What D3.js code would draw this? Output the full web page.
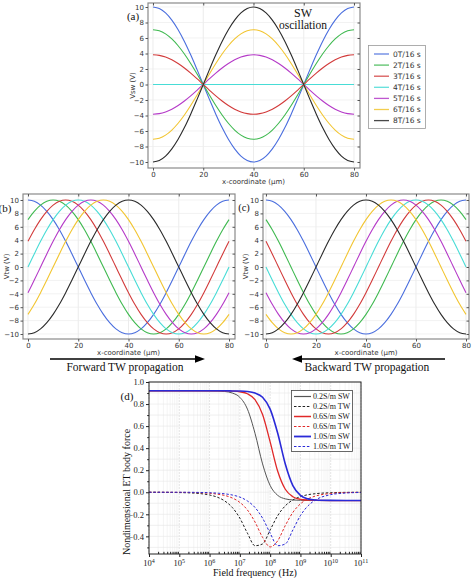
<!DOCTYPE html>
<html>
<head>
<meta charset="utf-8">
<script src="https://cdn.jsdelivr.net/npm/d3@7"></script>
<style>
  body { margin: 0; background: #fff; }
  svg { display: block; }
</style>
</head>
<body>
<script>
"use strict";

// ---- panels (a)-(c): one wavelength sampled every 2.5 um
const waveX = [0, 2.5, 5, 7.5, 10, 12.5, 15, 17.5, 20, 22.5, 25, 27.5, 30, 32.5, 35, 37.5, 40,
               42.5, 45, 47.5, 50, 52.5, 55, 57.5, 60, 62.5, 65, 67.5, 70, 72.5, 75, 77.5, 80];
const waveBase = [10, 9.81, 9.24, 8.31, 7.07, 5.56, 3.83, 1.95, 0, -1.95, -3.83, -5.56, -7.07, -8.31, -9.24, -9.81, -10,
                  -9.81, -9.24, -8.31, -7.07, -5.56, -3.83, -1.95, 0, 1.95, 3.83, 5.56, 7.07, 8.31, 9.24, 9.81, 10];
const timeLabels = ["0T/16 s", "2T/16 s", "3T/16 s", "4T/16 s", "5T/16 s", "6T/16 s", "8T/16 s"];
// standing wave: value at x = 0 for each time
const swAmp = [10, 7.07, 3.83, 0, -3.83, -7.07, -10];
// travelling wave: crest position (um) for each time
const twShift = [0, 10, 15, 20, 25, 30, 40];
const waveXTicks = [0, 20, 40, 60, 80];
const waveYTicks = [-10, -8, -6, -4, -2, 0, 2, 4, 6, 8, 10];

// ---- panel (d): field frequency (log10 Hz) and body force
const logF = [4, 5, 5.5, 6, 6.25, 6.5, 6.75, 7, 7.25, 7.5, 7.75, 8, 8.25, 8.5, 8.75, 9, 9.25, 9.5, 10, 10.5, 11];
const sw02 = [0.92, 0.92, 0.92, 0.919, 0.918, 0.914, 0.900, 0.861, 0.754, 0.535, 0.257, 0.061, -0.028, -0.060, -0.070, -0.073, -0.074, -0.075, -0.075, -0.075, -0.075];
const tw02 = [0, -0.003, -0.008, -0.025, -0.044, -0.079, -0.138, -0.235, -0.371, -0.485, -0.469, -0.342, -0.212, -0.123, -0.070, -0.040, -0.022, -0.013, -0.004, -0.001, 0];
const sw06 = [0.92, 0.92, 0.92, 0.92, 0.92, 0.919, 0.917, 0.911, 0.893, 0.840, 0.705, 0.457, 0.190, 0.027, -0.040, -0.064, -0.071, -0.074, -0.075, -0.075, -0.075];
const tw06 = [0, -0.001, -0.003, -0.009, -0.017, -0.029, -0.052, -0.092, -0.161, -0.270, -0.409, -0.496, -0.440, -0.302, -0.183, -0.105, -0.060, -0.034, -0.011, -0.003, -0.001];
const sw10 = [0.92, 0.92, 0.92, 0.92, 0.92, 0.92, 0.919, 0.918, 0.914, 0.900, 0.861, 0.754, 0.535, 0.257, 0.061, -0.028, -0.060, -0.070, -0.074, -0.075, -0.075];
const tw10 = [0, 0, -0.001, -0.004, -0.008, -0.014, -0.025, -0.044, -0.079, -0.138, -0.235, -0.371, -0.485, -0.469, -0.342, -0.212, -0.123, -0.070, -0.022, -0.007, -0.002];
const forceLabels = ["0.2S/m SW", "0.2S/m TW", "0.6S/m SW", "0.6S/m TW", "1.0S/m SW", "1.0S/m TW"];
const forceYTicks = [-0.4, -0.2, 0, 0.2, 0.4, 0.6, 0.8, 1.0];
const decades = [4, 5, 6, 7, 8, 9, 10, 11];

(function () {
    const timeColors = ["#4a6ede", "#3fb950", "#d23a3a", "#48dcd6", "#b53ac8", "#f2c531", "#2a2a2a"];
    const sans = "'DejaVu Sans', sans-serif";
    const serif = "'Liberation Serif', 'Times New Roman', serif";

    const svg = d3.select("body").append("svg")
        .attr("width", 474)
        .attr("height", 578);

    const swSeries = swAmp.map(a => waveBase.map(v => v * a / 10));
    const fwdSeries = twShift.map(s => waveX.map((_, j) => waveBase[(j - s / 2.5 + 32) % 32]));
    const bwdSeries = twShift.map(s => waveX.map((_, j) => waveBase[(j + s / 2.5) % 32]));

    drawWave({ frame: [148, 3, 360, 168], xr: [153, 354], yr: [162, 7], ylab: "Vsw (V)", ylabX: 133 }, swSeries);
    drawWave({ frame: [23, 194, 235, 339], xr: [28, 229], yr: [334, 200], ylab: "Vtw (V)", ylabX: 7 }, fwdSeries);
    drawWave({ frame: [263, 194, 469, 339], xr: [266, 466], yr: [334, 200], ylab: "Vtw (V)", ylabX: 246 }, bwdSeries);

    // panel tags and notes
    addText(133, 20, "(a)", serif, 11, "middle");
    addText(303, 17, "SW", serif, 12, "middle");
    addText(303, 29, "oscillation", serif, 11.5, "middle");
    addText(5, 212, "(b)", serif, 11, "middle");
    addText(244, 211, "(c)", serif, 10.5, "middle");
    addText(127, 400, "(d)", serif, 11, "middle");

    // propagation arrows
    arrow(50, 205, 359);
    addText(125, 371, "Forward TW propagation", serif, 11.5, "middle");
    arrow(445, 292, 359);
    addText(367, 371, "Backward TW propagation", serif, 11.5, "middle");

    // legend of (a)
    const leg = svg.append("g");
    leg.append("rect").attr("x", 368.5).attr("y", 45.5).attr("width", 57).attr("height", 83)
        .attr("fill", "#fff").attr("stroke", "#999").attr("stroke-width", 0.8);
    timeLabels.forEach((lab, i) => {
        const yy = 54 + i * 11.1;
        leg.append("line").attr("x1", 374).attr("x2", 389).attr("y1", yy).attr("y2", yy)
            .attr("stroke", timeColors[i]).attr("stroke-width", 1.3).attr("opacity", 0.85);
        leg.append("text").attr("x", 393).attr("y", yy + 2.7).attr("font-family", sans)
            .attr("font-size", 7.5).attr("fill", "#333").text(lab);
    });

    drawForce();

    function addText(x, y, s, family, size, anchor) {
        return svg.append("text").attr("x", x).attr("y", y).attr("font-family", family)
            .attr("font-size", size).attr("text-anchor", anchor).attr("fill", "#111").text(s);
    }

    function arrow(x1, x2, y) {
        const dir = x2 > x1 ? 1 : -1;
        svg.append("line").attr("x1", x1).attr("x2", x2 - dir * 6).attr("y1", y).attr("y2", y)
            .attr("stroke", "#000").attr("stroke-width", 1.6);
        svg.append("path")
            .attr("d", `M${x2},${y} L${x2 - dir * 10},${y - 3.8} L${x2 - dir * 10},${y + 3.8} Z`)
            .attr("fill", "#000");
    }

    function drawWave(cfg, series) {
        const [l, t, r, b] = cfg.frame;
        const x = d3.scaleLinear().domain([0, 80]).range(cfg.xr);
        const y = d3.scaleLinear().domain([-10, 10]).range(cfg.yr);
        const g = svg.append("g");

        // grid
        g.selectAll(".vg").data(waveXTicks).enter().append("line")
            .attr("x1", d => x(d)).attr("x2", d => x(d)).attr("y1", t).attr("y2", b)
            .attr("stroke", "#e4e4e4").attr("stroke-width", 0.7);
        g.selectAll(".hg").data(waveYTicks).enter().append("line")
            .attr("x1", l).attr("x2", r).attr("y1", d => y(d)).attr("y2", d => y(d))
            .attr("stroke", "#ededed").attr("stroke-width", 0.7);

        const line = d3.line()
            .x((d, i) => x(waveX[i]))
            .y(d => y(d))
            .curve(d3.curveCatmullRom);

        g.selectAll(".curve").data(series).enter().append("path")
            .attr("d", line)
            .attr("fill", "none")
            .attr("stroke", (d, i) => timeColors[i])
            .attr("stroke-width", 1.1);

        g.append("rect").attr("x", l).attr("y", t).attr("width", r - l).attr("height", b - t)
            .attr("fill", "none").attr("stroke", "#8a8a8a").attr("stroke-width", 1.2);

        const ax = g.append("g").attr("transform", `translate(0,${b})`)
            .call(d3.axisBottom(x).tickValues(waveXTicks).tickSize(2.5).tickPadding(1.5).tickSizeOuter(0));
        const ay = g.append("g").attr("transform", `translate(${l},0)`)
            .call(d3.axisLeft(y).tickValues(waveYTicks).tickSize(2.5).tickPadding(1.5).tickSizeOuter(0));
        // mirrored inner ticks on top and right
        g.append("g").attr("transform", `translate(0,${t})`)
            .call(d3.axisBottom(x).tickValues(waveXTicks).tickSize(2.5).tickFormat("").tickSizeOuter(0));
        g.append("g").attr("transform", `translate(${r},0)`)
            .call(d3.axisLeft(y).tickValues(waveYTicks).tickSize(2.5).tickFormat("").tickSizeOuter(0));

        g.selectAll(".domain").remove();
        g.selectAll(".tick line").attr("stroke", "#555");
        [ax, ay].forEach(a => a.selectAll("text")
            .attr("font-family", sans).attr("font-size", 7).attr("fill", "#333"));

        g.append("text").attr("x", (cfg.xr[0] + cfg.xr[1]) / 2).attr("y", b + 15.5)
            .attr("text-anchor", "middle").attr("font-family", sans).attr("font-size", 7)
            .attr("fill", "#333").text("x-coordinate (\u03bcm)");
        g.append("text").attr("transform", `translate(${cfg.ylabX},${(t + b) / 2}) rotate(-90)`)
            .attr("text-anchor", "middle").attr("dy", "0.35em").attr("font-family", sans)
            .attr("font-size", 7).attr("fill", "#333").text(cfg.ylab);
    }

    function drawForce() {
        const l = 149, r = 361, t = 382, b = 554;
        const x = d3.scaleLog().domain([1e4, 1e11]).range([l, r]);
        const y = d3.scaleLinear().domain([-0.56, 1.0]).range([b, t]);
        const g = svg.append("g");

        const minorF = [];
        decades.slice(0, -1).forEach(p => [2, 3, 4, 5, 6, 7, 8, 9].forEach(k => minorF.push(k * Math.pow(10, p))));
        const minorY = [-0.5, -0.3, -0.1, 0.1, 0.3, 0.5, 0.7, 0.9];

        g.selectAll(".mg").data(minorF).enter().append("line")
            .attr("x1", d => x(d)).attr("x2", d => x(d)).attr("y1", t).attr("y2", b)
            .attr("stroke", "#eeeeee").attr("stroke-width", 0.6);
        g.selectAll(".vg").data(decades).enter().append("line")
            .attr("x1", d => x(Math.pow(10, d))).attr("x2", d => x(Math.pow(10, d))).attr("y1", t).attr("y2", b)
            .attr("stroke", "#d8d8d8").attr("stroke-width", 0.7).attr("stroke-dasharray", "2,1");
        g.selectAll(".hg").data(forceYTicks.concat(minorY)).enter().append("line")
            .attr("x1", l).attr("x2", r).attr("y1", d => y(d)).attr("y2", d => y(d))
            .attr("stroke", "#e6e6e6").attr("stroke-width", 0.6);

        const series = [
            { v: sw02, c: "#555555", w: 1.0, dash: null },
            { v: tw02, c: "#222222", w: 1.0, dash: "2.5,1.8" },
            { v: sw06, c: "#e02828", w: 1.3, dash: null },
            { v: tw06, c: "#e02828", w: 1.0, dash: "2.5,1.8" },
            { v: sw10, c: "#2a2ad8", w: 1.6, dash: null },
            { v: tw10, c: "#2a2ad8", w: 1.0, dash: "2.5,1.8" }
        ];

        const line = d3.line()
            .x((d, i) => x(Math.pow(10, logF[i])))
            .y(d => y(d))
            .curve(d3.curveMonotoneX);

        g.selectAll(".force").data(series).enter().append("path")
            .attr("d", d => line(d.v))
            .attr("fill", "none")
            .attr("stroke", d => d.c)
            .attr("stroke-width", d => d.w)
            .attr("stroke-dasharray", d => d.dash);

        g.append("rect").attr("x", l).attr("y", t).attr("width", r - l).attr("height", b - t)
            .attr("fill", "none").attr("stroke", "#222").attr("stroke-width", 1);

        // axes
        const ay = g.append("g").attr("transform", `translate(${l},0)`)
            .call(d3.axisLeft(y).tickValues(forceYTicks).tickFormat(d3.format(".1f")).tickSize(3).tickPadding(2).tickSizeOuter(0));
        g.append("g").attr("transform", `translate(${l},0)`)
            .call(d3.axisLeft(y).tickValues(minorY).tickFormat("").tickSize(1.8).tickSizeOuter(0));
        const ax = g.append("g").attr("transform", `translate(0,${b})`)
            .call(d3.axisBottom(x).tickValues(decades.map(p => Math.pow(10, p))).tickFormat("").tickSize(3).tickSizeOuter(0));
        g.append("g").attr("transform", `translate(0,${b})`)
            .call(d3.axisTop(x).tickValues(minorF).tickFormat("").tickSize(2.2).tickSizeOuter(0));
        g.selectAll(".domain").remove();
        g.selectAll(".tick line").attr("stroke", "#222");
        ay.selectAll("text").attr("font-family", serif).attr("font-size", 8.5).attr("fill", "#222");

        const xl = g.selectAll(".xl").data(decades).enter().append("text")
            .attr("x", d => x(Math.pow(10, d)))
            .attr("y", b + 12)
            .attr("text-anchor", "middle")
            .attr("font-family", serif).attr("font-size", 8.5).attr("fill", "#222");
        xl.append("tspan").text("10");
        xl.append("tspan").attr("dy", -3.5).attr("font-size", 6).text(d => d);

        g.append("text").attr("x", 255).attr("y", 576).attr("text-anchor", "middle")
            .attr("font-family", serif).attr("font-size", 10).attr("fill", "#111").text("Field frequency (Hz)");
        g.append("text").attr("transform", "translate(126,492) rotate(-90)")
            .attr("text-anchor", "middle").attr("dy", "0.35em")
            .attr("font-family", serif).attr("font-size", 10).attr("fill", "#111").text("Nondimensional ET body force");

        // legend
        const lg = g.append("g");
        lg.append("rect").attr("x", 291.5).attr("y", 390.5).attr("width", 61).attr("height", 61)
            .attr("fill", "#fff").attr("stroke", "#444").attr("stroke-width", 0.8);
        forceLabels.forEach((lab, i) => {
            const yy = 396.5 + i * 10;
            lg.append("line").attr("x1", 294).attr("x2", 311).attr("y1", yy).attr("y2", yy)
                .attr("stroke", series[i].c).attr("stroke-width", series[i].w + 0.2)
                .attr("stroke-dasharray", series[i].dash);
            lg.append("text").attr("x", 313).attr("y", yy + 2.8).attr("font-family", serif)
                .attr("font-size", 8).attr("fill", "#222").text(lab);
        });
    }
})();
</script>
</body>
</html>
